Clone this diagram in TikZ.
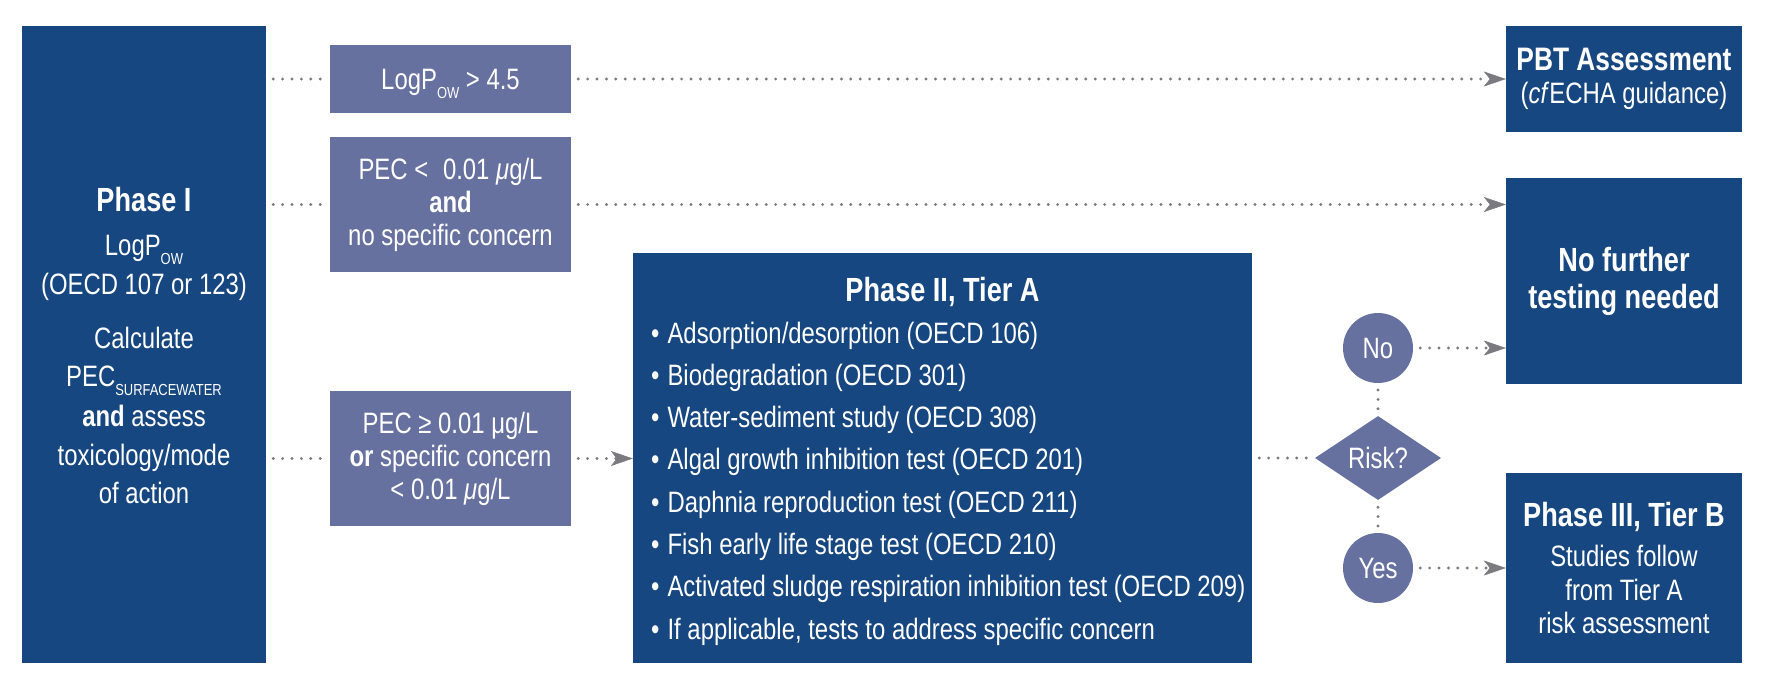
\documentclass[tikz,border=0pt]{standalone}
\usepackage{fontspec}
\setmainfont{Liberation Sans}[FakeStretch=0.81]
\usetikzlibrary{arrows.meta,shapes.geometric,calc}
\definecolor{dblue}{RGB}{23,71,128}
\definecolor{slate}{RGB}{103,113,160}
\definecolor{dotgray}{RGB}{122,122,128}
\newcommand{\mysub}[1]{\raisebox{-9pt}{\fontsize{16}{16}\selectfont #1}}
\begin{document}
\begin{tikzpicture}[x=1pt,y=-1pt,
  dbox/.style={fill=dblue, draw=none, text=white, inner sep=0pt, align=center},
  sbox/.style={fill=slate, draw=none, text=white, inner sep=0pt, align=center},
  wtxt/.style={text=white, inner sep=0pt},
  body/.style={font=\fontsize{29.5}{33}\selectfont},
  ttl/.style={font=\bfseries\fontsize{33.5}{37}\selectfont},
  conn/.style={draw=dotgray, line width=3.2pt, dash pattern=on 0pt off 9.4pt, line cap=round, shorten <=7pt, shorten >=5pt},
  arr/.style={draw=dotgray, line width=3.2pt, dash pattern=on 0pt off 9.4pt, line cap=round, shorten <=7pt,
    -{Stealth[length=22pt,width=15pt,inset=6pt,line width=0.5pt,fill=dotgray]}},
]
\fill[white] (0,0) rectangle (1769,686);
\useasboundingbox (0,0) rectangle (1769,686);

% boxes
\node[dbox, minimum width=244pt, minimum height=637pt] (p1) at (144,344.5) {};
\node[sbox, body, minimum width=241pt, minimum height=68pt, text depth=0pt] (logp) at (450.5,79) {LogP\mysub{OW} > 4.5};
\node[sbox, body, minimum width=241pt, minimum height=135pt] (peca) at (450.5,204.5)
  {PEC <\enspace 0.01 \textit{μ}g/L\\ \textbf{and}\\ no specific concern};
\node[sbox, body, minimum width=241pt, minimum height=135pt] (pecb) at (450.5,458.5)
  {PEC ≥ 0.01 μg/L\\ \textbf{or} specific concern\\ < 0.01 \textit{μ}g/L};
\node[dbox, minimum width=619pt, minimum height=410pt] (p2) at (942.5,458) {};
\node[dbox, body, minimum width=236pt, minimum height=106pt] (pbt) at (1624,79)
  {{\bfseries\fontsize{32.5}{33}\selectfont PBT Assessment}\\ (\textit{cf}ECHA guidance)};
\node[dbox, ttl, minimum width=236pt, minimum height=206pt] (nft) at (1624,281)
  {No further\\ testing needed};
\node[dbox, font=\fontsize{29.5}{33.5}\selectfont, minimum width=236pt, minimum height=190pt] (p3) at (1624,568)
  {{\bfseries\fontsize{33.5}{33.5}\selectfont Phase III, Tier B}\\[7pt] Studies follow\\ from Tier A\\ risk assessment};
\node[circle, fill=slate, text=white, body, minimum size=70pt, inner sep=0pt] (no) at (1378,348) {No};
\node[diamond, fill=slate, text=white, body, minimum width=126pt, minimum height=84pt, inner sep=0pt] (risk) at (1378,458) {Risk?};
\node[circle, fill=slate, text=white, body, minimum size=70pt, inner sep=0pt] (yes) at (1378,568) {Yes};

% Phase I text
\node[wtxt, ttl, anchor=base] (p1a) at (144,211) {Phase I};
\node[wtxt, body, anchor=base] (p1b) at (144,255) {LogP\mysub{OW}};
\node[wtxt, body, anchor=base] (p1c) at (144,294) {(OECD 107 or 123)};
\node[wtxt, body, anchor=base] (p1d) at (144,348) {Calculate};
\node[wtxt, body, anchor=base] (p1e) at (144,386) {PEC\mysub{SURFACEWATER}};
\node[wtxt, body, anchor=base] (p1f) at (144,426) {\textbf{and} assess};
\node[wtxt, body, anchor=base] (p1g) at (144,465) {toxicology/mode};
\node[wtxt, body, anchor=base] (p1h) at (144,503) {of action};

% Phase II text
\node[wtxt, ttl, anchor=base] (p2t) at (942.5,301.7) {Phase II, Tier A};
\foreach \t [count=\i] in {{Adsorption/desorption (OECD 106)},{Biodegradation (OECD 301)},
  {Water-sediment study (OECD 308)},{Algal growth inhibition test (OECD 201)},
  {Daphnia reproduction test (OECD 211)},{Fish early life stage test (OECD 210)},
  {Activated sludge respiration inhibition test (OECD 209)},
  {If applicable, tests to address specific concern}}{
  \node[wtxt, body, anchor=base west] (li\i) at (651,{343+42.3*(\i-1)}) {•\hspace{8pt}\t};
}

% connectors
\draw[conn] (p1.east |- logp.west) -- (logp.west);
\draw[arr] (logp.east) -- (logp.east -| pbt.west);
\draw[conn] (p1.east |- peca.west) -- (peca.west);
\draw[arr] (peca.east) -- (peca.east -| nft.west);
\draw[conn] (p1.east |- pecb.west) -- (pecb.west);
\draw[arr] (pecb.east) -- (pecb.east -| p2.west);
\draw[conn] (p2.east |- risk.west) -- (risk.west);
\draw[conn] (risk.north) -- (no.south);
\draw[conn] (risk.south) -- (yes.north);
\draw[arr] (no.east) -- (no.east -| nft.west);
\draw[arr] (yes.east) -- (yes.east -| p3.west);
\end{tikzpicture}
\end{document}
